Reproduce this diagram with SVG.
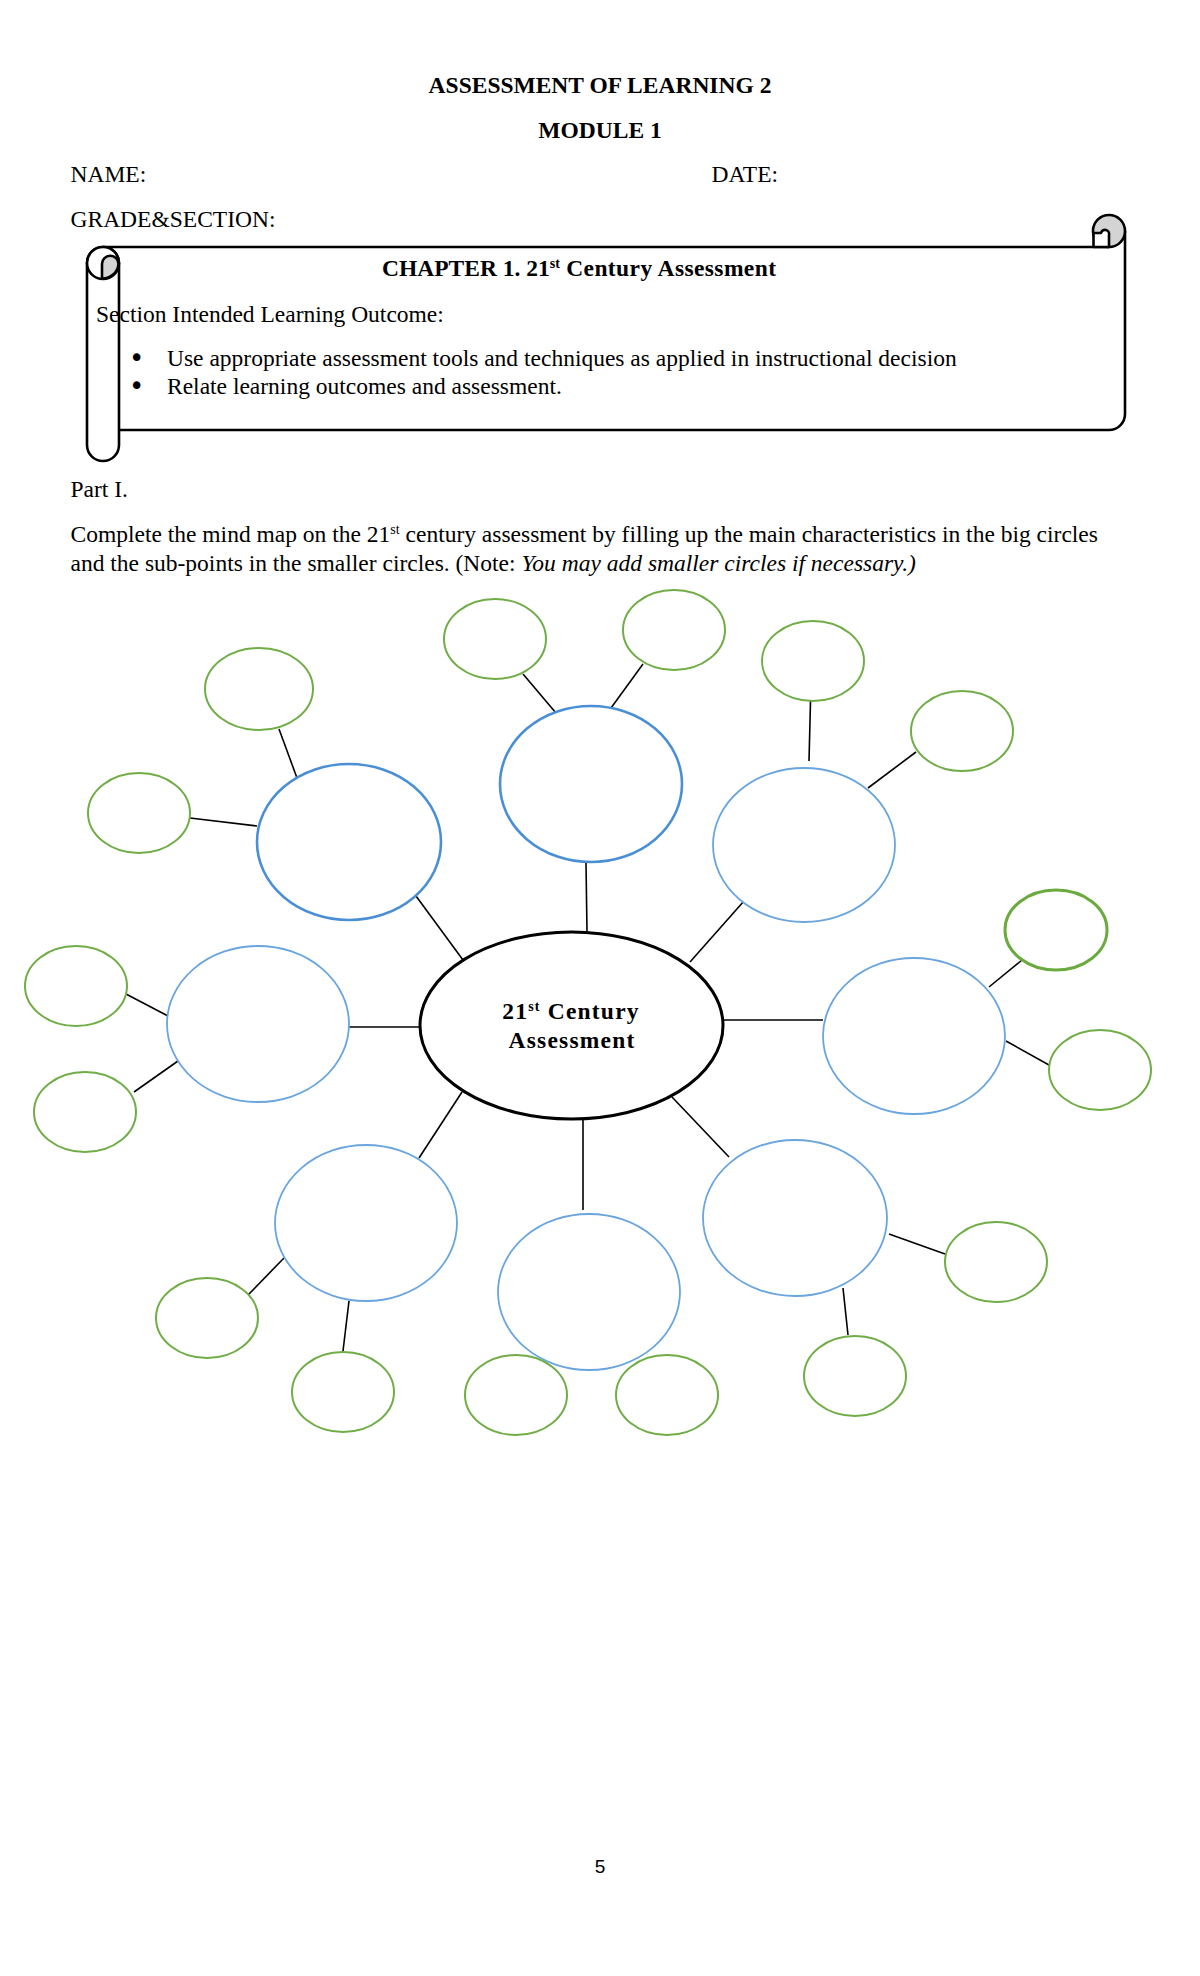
<svg xmlns="http://www.w3.org/2000/svg" width="1200" height="1976" viewBox="0 0 1200 1976">
<style>
.t{font-family:"Liberation Serif","Times New Roman",serif;font-size:23.5px;fill:#000}
.b{font-weight:bold}
.c{text-anchor:middle}
.sup{font-size:14px}
.bul{font-family:"DejaVu Sans",sans-serif;font-size:26px}
.ln{stroke:#000;stroke-width:1.6;fill:none}
.main{fill:#fff;stroke:#4a8fd6;stroke-width:2.6}
.blue{fill:#fff;stroke:#6aa5de;stroke-width:1.8}
.sub{fill:#fff;stroke:#70ad47;stroke-width:2}
.sub2{fill:#fff;stroke:#6aaa3e;stroke-width:3}
.scr{stroke:#000;stroke-width:2.6;stroke-linejoin:round}
</style>
<rect width="1200" height="1976" fill="#fff"/>

<g id="header">
<text class="t b c" x="600" y="93">ASSESSMENT OF LEARNING 2</text>
<text class="t b c" x="600" y="138">MODULE 1</text>
<text class="t" x="70.5" y="182">NAME:</text>
<text class="t" x="711.5" y="182">DATE:</text>
<text class="t" x="70.5" y="227">GRADE&amp;SECTION:</text>
</g>

<g id="scroll">
<path d="M103,247 H1125 V414 A16,16 0 0 1 1109,430 H103 Z" fill="#fff"/>
<path class="scr" fill="none" d="M103,247 H1109 M1125,231 V414 A16,16 0 0 1 1109,430 H119"/>
<path class="scr" fill="#fff" d="M87,263 A16,16 0 0 1 119,263 V445 A16,16 0 0 1 87,445 Z"/>
<circle class="scr" cx="103" cy="263" r="16" fill="#fff"/>
<path class="scr" fill="#d4d4d4" stroke-width="2" d="M102,278.5 V264 A8,8 0 0 1 118.5,264 A16,16 0 0 1 102,278.5 Z"/>
<circle class="scr" cx="1109" cy="231" r="16" fill="#d4d4d4"/>
<path class="scr" fill="#fff" stroke-width="2" d="M1093.5,247 V233 H1101 A4,4 0 0 1 1109,235 V247 Z"/>
<text class="t b" x="382" y="276">CHAPTER 1. 21<tspan class="sup" dy="-8">st</tspan><tspan dy="8" letter-spacing="0.4"> Century Assessment</tspan></text>
<text class="t" x="96" y="322">Section Intended Learning Outcome:</text>
<text class="t bul" x="129" y="367">•</text>
<text class="t" x="167" y="366">Use appropriate assessment tools and techniques as applied in instructional decision</text>
<text class="t bul" x="129" y="395">•</text>
<text class="t" x="167" y="394">Relate learning outcomes and assessment.</text>
</g>

<g id="instructions">
<text class="t" x="70.5" y="497">Part I.</text>
<text class="t" x="70.5" y="542">Complete the mind map on the 21<tspan class="sup" dy="-8">st</tspan><tspan dy="8"> century assessment by filling up the main characteristics in the big circles</tspan></text>
<text class="t" x="70.5" y="571">and the sub-points in the smaller circles. (Note: <tspan font-style="italic">You may add smaller circles if necessary.)</tspan></text>
</g>

<g id="connectors">
<line class="ln" x1="463" y1="960" x2="416" y2="896"/>
<line class="ln" x1="587" y1="932" x2="586" y2="863"/>
<line class="ln" x1="690" y1="962" x2="744" y2="901"/>
<line class="ln" x1="420" y1="1027" x2="349" y2="1027"/>
<line class="ln" x1="723" y1="1020" x2="823" y2="1020"/>
<line class="ln" x1="462" y1="1092" x2="419" y2="1158"/>
<line class="ln" x1="583" y1="1119" x2="583" y2="1210"/>
<line class="ln" x1="672" y1="1097" x2="729" y2="1157"/>
<line class="ln" x1="297" y1="778" x2="279" y2="729"/>
<line class="ln" x1="257" y1="826" x2="190" y2="818"/>
<line class="ln" x1="556" y1="713" x2="523" y2="674"/>
<line class="ln" x1="611" y1="708" x2="643" y2="664"/>
<line class="ln" x1="809" y1="761" x2="810.5" y2="701"/>
<line class="ln" x1="868" y1="788" x2="916" y2="752"/>
<line class="ln" x1="168" y1="1016" x2="126" y2="994"/>
<line class="ln" x1="178" y1="1061" x2="134" y2="1092"/>
<line class="ln" x1="989" y1="987" x2="1022" y2="960"/>
<line class="ln" x1="1006" y1="1041" x2="1049" y2="1065"/>
<line class="ln" x1="284" y1="1258" x2="248" y2="1295"/>
<line class="ln" x1="349" y1="1301" x2="343" y2="1351"/>
<line class="ln" x1="843" y1="1288" x2="848" y2="1335"/>
<line class="ln" x1="889" y1="1234" x2="945" y2="1254"/>
</g>

<g id="center">
<ellipse cx="571.5" cy="1025.5" rx="151.5" ry="93.5" fill="#fff" stroke="#000" stroke-width="3"/>
<text class="t b c" x="571" y="1019" font-size="21.5" letter-spacing="1.2">21<tspan class="sup" font-size="12" dy="-8">st</tspan><tspan dy="8"> Century</tspan></text>
<text class="t b c" x="572" y="1048" font-size="21.5" letter-spacing="1.2">Assessment</text>
</g>

<g id="main-top-left"><ellipse class="main" cx="349" cy="842" rx="92" ry="78"/></g>
<g id="main-top"><ellipse class="main" cx="591" cy="784" rx="91" ry="78"/></g>
<g id="main-top-right"><ellipse class="blue" cx="804" cy="845" rx="91" ry="77"/></g>
<g id="main-left"><ellipse class="blue" cx="258" cy="1024" rx="91" ry="78"/></g>
<g id="main-right"><ellipse class="blue" cx="914" cy="1036" rx="91" ry="78"/></g>
<g id="main-bottom-left"><ellipse class="blue" cx="366" cy="1223" rx="91" ry="78"/></g>
<g id="main-bottom"><ellipse class="blue" cx="589" cy="1292" rx="91" ry="78"/></g>
<g id="main-bottom-right"><ellipse class="blue" cx="795" cy="1218" rx="92" ry="78"/></g>

<g id="sub-a"><ellipse class="sub" cx="495" cy="639" rx="51" ry="40"/></g>
<g id="sub-b"><ellipse class="sub" cx="674" cy="630" rx="51" ry="40"/></g>
<g id="sub-c"><ellipse class="sub" cx="259" cy="689" rx="54" ry="41"/></g>
<g id="sub-d"><ellipse class="sub" cx="139" cy="813" rx="51" ry="40"/></g>
<g id="sub-e"><ellipse class="sub" cx="813" cy="661" rx="51" ry="40"/></g>
<g id="sub-f"><ellipse class="sub" cx="962" cy="731" rx="51" ry="40"/></g>
<g id="sub-g"><ellipse class="sub" cx="76" cy="986" rx="51" ry="40"/></g>
<g id="sub-h"><ellipse class="sub" cx="85" cy="1112" rx="51" ry="40"/></g>
<g id="sub-i"><ellipse class="sub2" cx="1056" cy="930" rx="51" ry="40"/></g>
<g id="sub-j"><ellipse class="sub" cx="1100" cy="1070" rx="51" ry="40"/></g>
<g id="sub-k"><ellipse class="sub" cx="207" cy="1318" rx="51" ry="40"/></g>
<g id="sub-l"><ellipse class="sub" cx="343" cy="1392" rx="51" ry="40"/></g>
<g id="sub-m"><ellipse class="sub" cx="516" cy="1395" rx="51" ry="40"/></g>
<g id="sub-n"><ellipse class="sub" cx="667" cy="1395" rx="51" ry="40"/></g>
<g id="sub-o"><ellipse class="sub" cx="855" cy="1376" rx="51" ry="40"/></g>
<g id="sub-p"><ellipse class="sub" cx="996" cy="1262" rx="51" ry="40"/></g>

<g id="footer">
<text x="600" y="1873" text-anchor="middle" font-family="'Liberation Sans','Open Sans',sans-serif" font-size="19">5</text>
</g>
</svg>
